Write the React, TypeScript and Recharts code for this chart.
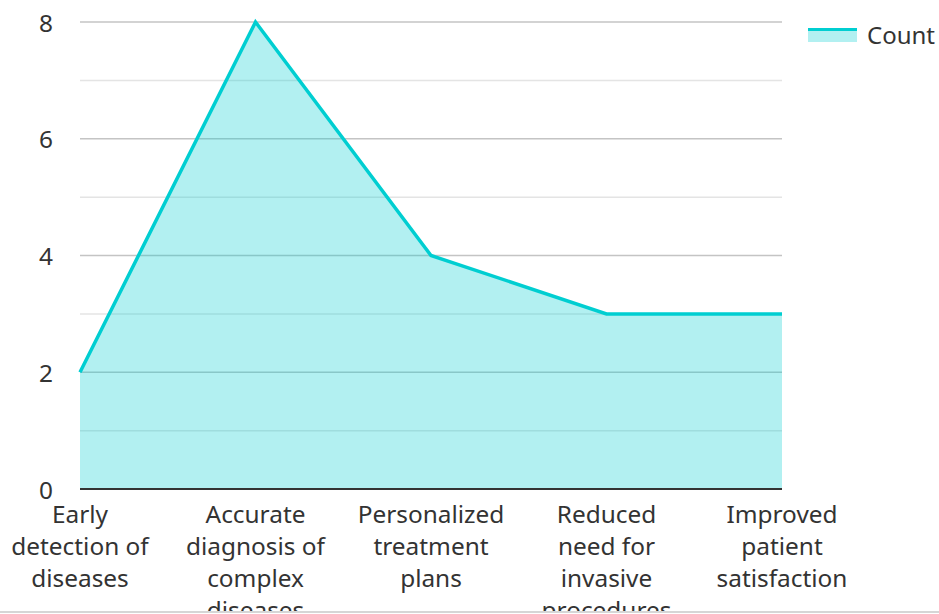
import React from 'react';
import { AreaChart, Area, XAxis, YAxis, CartesianGrid } from 'recharts';

const categories: string[] = [
  'Early detection of diseases',
  'Accurate diagnosis of complex diseases',
  'Personalized treatment plans',
  'Reduced need for invasive procedures',
  'Improved patient satisfaction',
];
const counts: number[] = [2, 8, 4, 3, 3];
const yTicks: number[] = [0, 1, 2, 3, 4, 5, 6, 7, 8];
const yLabelTicks: number[] = [0, 2, 4, 6, 8];
const seriesName = 'Count';

const data = categories.map((c, i) => ({ name: c, value: counts[i] }));

const COLOR = '#00CED1';
const FONT = '"Noto Sans", "Open Sans", sans-serif';
const TEXT_COLOR = '#333333';
const FONT_SIZE = 24.4;
const WRAP_WIDTH = 154;

let ctx: CanvasRenderingContext2D | null = null;
const measure = (s: string): number => {
  if (!ctx) {
    const c = document.createElement('canvas');
    ctx = c.getContext('2d');
  }
  if (!ctx) return s.length * FONT_SIZE * 0.55;
  ctx.font = `${FONT_SIZE}px "Noto Sans"`;
  return ctx.measureText(s).width;
};

const wrap = (s: string): string[] => {
  const words = s.split(' ');
  const lines: string[] = [];
  let cur = '';
  for (const w of words) {
    const test = cur ? `${cur} ${w}` : w;
    if (cur && measure(test) > WRAP_WIDTH) {
      lines.push(cur);
      cur = w;
    } else {
      cur = test;
    }
  }
  if (cur) lines.push(cur);
  return lines;
};

const XTick = (props: any) => {
  const { x, y, payload } = props;
  const lines = wrap(String(payload.value));
  return (
    <text
      x={x}
      y={y}
      textAnchor="middle"
      fill={TEXT_COLOR}
      style={{ fontFamily: FONT, fontSize: FONT_SIZE }}
    >
      {lines.map((l, i) => (
        <tspan key={i} x={x} dy={i === 0 ? 17 : 32}>
          {l}
        </tspan>
      ))}
    </text>
  );
};

const YTick = (props: any) => {
  const { x, y, payload } = props;
  if (!yLabelTicks.includes(payload.value)) return null;
  return (
    <text
      x={x}
      y={y}
      textAnchor="end"
      dominantBaseline="central"
      fill={TEXT_COLOR}
      style={{ fontFamily: FONT, fontSize: FONT_SIZE }}
    >
      {payload.value}
    </text>
  );
};

const gridLine = (props: any) => {
  const { x1, x2, y1, y2, index } = props;
  const major = index % 2 === 0;
  return (
    <line
      key={`g-${index}`}
      x1={x1}
      x2={x2}
      y1={y1}
      y2={y2}
      stroke={major ? '#c4c4c4' : '#e4e4e4'}
      strokeWidth={1.5}
    />
  );
};

export default function App() {
  return (
    <div
      style={{
        position: 'absolute',
        left: 0,
        top: 0,
        width: 939,
        height: 614,
        background: '#fff',
        fontFamily: FONT,
      }}
    >
      <div style={{ position: 'absolute', left: 0, top: 0, width: 939, height: 611, overflow: 'hidden' }}>
        <AreaChart
          width={939}
          height={640}
          data={data}
          margin={{ top: 22, right: 157, bottom: 29, left: 0 }}
        >
          <CartesianGrid vertical={false} horizontal={gridLine} />
          <XAxis
            dataKey="name"
            axisLine={{ stroke: '#333333', strokeWidth: 2 }}
            tickLine={false}
            tickMargin={11}
            height={122}
            interval={0}
            tick={<XTick />}
          />
          <YAxis
            domain={[0, 8]}
            ticks={yTicks}
            interval={0}
            width={80}
            axisLine={false}
            tickLine={false}
            tickMargin={21}
            tick={<YTick />}
          />
          <Area
            type="linear"
            dataKey="value"
            name={seriesName}
            stroke={COLOR}
            strokeWidth={3.5}
            fill={COLOR}
            fillOpacity={0.3}
            dot={false}
            activeDot={false}
            isAnimationActive={false}
          />
        </AreaChart>
      </div>
      <div style={{ position: 'absolute', left: 0, top: 611, width: 939, height: 3, borderTop: '2px solid #d6d6d6' }} />
      <div style={{ position: 'absolute', left: 808, top: 20, height: 30, display: 'flex', alignItems: 'center' }}>
        <div style={{ width: 49, height: 14, display: 'flex', flexDirection: 'column' }}>
          <div style={{ height: 3, background: COLOR }} />
          <div style={{ flex: 1, background: 'rgba(0,206,209,0.3)' }} />
        </div>
        <span style={{ marginLeft: 10, fontSize: 24, color: TEXT_COLOR, lineHeight: '30px' }}>{seriesName}</span>
      </div>
    </div>
  );
}
